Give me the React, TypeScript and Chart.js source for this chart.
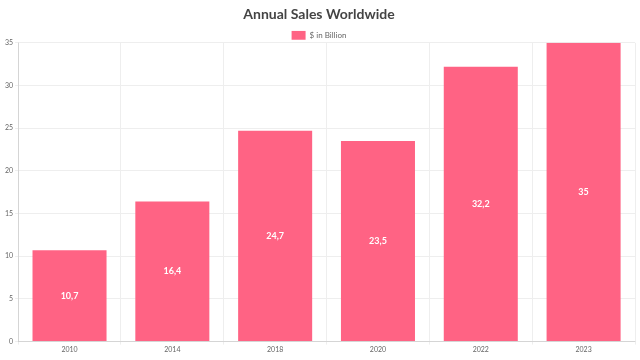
import React, { useEffect, useRef } from "react";
import { Chart, registerables } from "chart.js";

Chart.register(...registerables);

const categories = ["2010", "2014", "2018", "2020", "2022", "2023"];
const salesValues = [10.7, 16.4, 24.7, 23.5, 32.2, 35];
const seriesLabel = "$ in Billion";
const chartTitle = "Annual Sales Worldwide";

const valueLabelPlugin = {
  id: "valueLabels",
  afterDatasetsDraw(chart: any) {
    const ctx = chart.ctx;
    const meta = chart.getDatasetMeta(0);
    ctx.save();
    ctx.fillStyle = "#ffffff";
    ctx.font = "bold 9px Lato";
    ctx.textAlign = "center";
    ctx.textBaseline = "middle";
    meta.data.forEach((bar: any, i: number) => {
      const v = chart.data.datasets[0].data[i] as number;
      const y = (bar.y + bar.base) / 2;
      ctx.fillText(String(v).replace(".", ","), bar.x, y);
    });
    ctx.restore();
  },
};

export default function App() {
  const ref = useRef<HTMLCanvasElement>(null);
  useEffect(() => {
    document.body.style.margin = "0";
    const chart = new Chart(ref.current!, {
      type: "bar",
      data: {
        labels: categories,
        datasets: [
          {
            label: seriesLabel,
            data: salesValues,
            backgroundColor: "#ff6384",
            borderColor: "#ff6384",
            borderWidth: 0,
          },
        ],
      },
      options: {
        animation: false,
        responsive: false,
        maintainAspectRatio: false,
        layout: { padding: { left: 3, right: 5, top: 0, bottom: 5 } },
        plugins: {
          title: {
            display: true,
            text: chartTitle,
            color: "#444444",
            font: { family: "Lato", size: 14, weight: "bold" },
            padding: { top: 6, bottom: 8 },
          },
          legend: {
            maxHeight: 12,
            labels: {
              color: "#666666",
              font: { family: "Lato", size: 8 },
              boxWidth: 14,
              boxHeight: 9,
              padding: 0,
            },
          },
          tooltip: { enabled: false },
        },
        scales: {
          x: {
            grid: { color: "#eeeeee", tickLength: 3 },
            ticks: { color: "#666666", padding: 1, font: { family: "Lato", size: 7 } },
          },
          y: {
            min: 0,
            max: 35,
            grid: { color: "#eeeeee", tickLength: 3 },
            ticks: { stepSize: 5, color: "#666666", padding: 2, font: { family: "Lato", size: 7 } },
          },
        },
      },
      plugins: [valueLabelPlugin],
    });
    return () => chart.destroy();
  }, []);
  return (
    <div style={{ width: 640, height: 360 }}>
      <canvas ref={ref} width={640} height={360} />
    </div>
  );
}
